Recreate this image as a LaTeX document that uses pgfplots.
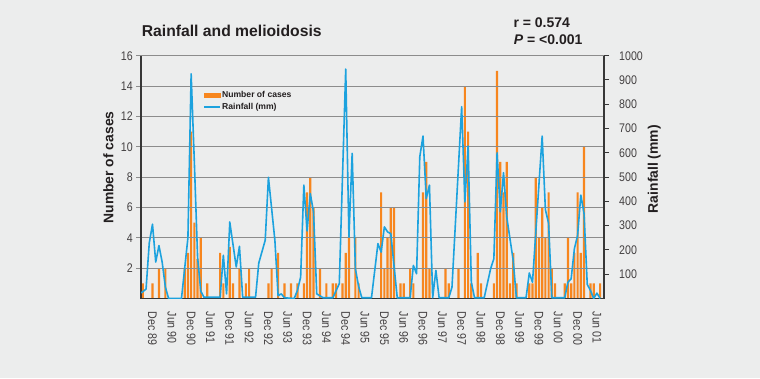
\documentclass[border=0pt]{standalone}
\usepackage{pgfplots}
\pgfplotsset{compat=1.18}
\usepackage{pgfplotstable}
\usepackage{fontspec}
\setmainfont{Liberation Sans}
\newfontfamily\tickfont{Liberation Sans}[FakeStretch=0.85]
\definecolor{bg}{RGB}{236,237,237}
\definecolor{barorange}{RGB}{247,134,30}
\definecolor{rainblue}{RGB}{28,162,222}
\definecolor{gridgray}{RGB}{140,140,140}
\definecolor{spine}{RGB}{55,55,55}
\definecolor{txt}{RGB}{35,31,32}

\pgfplotstableread{
m c
-3 1
0 1
2 2
4 2
10 2
11 3
12 11
13 5
14 2.6
15 4
17 1
21 3
22 1
24 3.4
25 1
27 2
29 1
30 2
36 1
37 2
39 3
41 1
43 1
45 1
47 1
48 7
49 8
50 6
52 2
54 1
56 1
57 1
59 1
60 3
61 4
63 4
64 1
71 7
72 2
73 4
74 6
75 6
77 1
78 1
80 2
81 1
84 7
85 9
86 2
91 2
92 1
95 2
97 14
98 11
99 1
101 3
102 1
106 1
107 15
108 9
109 7
110 9
111 1
112 3
113 1
117 1
118 1
119 8
120 4
121 6
122 4
123 7
124 2
125 1
128 1
129 4
130 1
131 3
132 7
133 3
134 10
136 1
137 1
139 1
}\casestable

\pgfplotstableread{
m r
-3.5 23
-2 39
-1 229
0 306
1 150
2 218
3 150
4 47
5 0
9 0
11 250
12 925
13 560
14 170
15 30
16 5
21 5
22 178
23 19
24 315
26 130
27 215
28 5
32 5
33 146
35 240
36 499
38 240
39 12
40 19
41 3
44 0
45 33
46 88
47 467
48 278
49 432
50 357
51 19
53 3
56 3
58 61
60 945
61 253
62 598
63 123
64 50
65 3
68 3
70 226
71 191
72 295
73 274
74 267
76 3
80 3
81 136
82 102
83 584
84 669
85 412
86 467
87 3
88 116
89 3
92 3
93 47
96 790
97 398
98 628
99 67
100 3
103 3
105 123
106 164
107 600
108 357
109 518
110 336
112 157
113 3
116 3
117 105
118 67
120 470
121 669
122 366
123 309
124 3
128 3
129 67
130 81
131 205
132 260
133 426
134 350
135 58
136 33
137 0
138 22
139 0
}\raintable

\pgfplotsset{
  common/.style={
    at={(141pt,79.5pt)}, anchor=south west,
    scale only axis, width=463pt, height=242.8pt,
    xmin=-3.57, xmax=140.2,
    tick align=outside, major tick length=5pt,
    /pgf/number format/assume math mode=true,
    /pgf/number format/1000 sep={},
    axis line style={spine, line width=1.5pt, -},
    tick label style={font=\tickfont\fontsize{12.5}{14}\selectfont, text=txt!85},
  }
}

\begin{document}
\begin{tikzpicture}
\fill[bg] (0,0) rectangle (760pt,378pt);
\useasboundingbox (0,0) rectangle (760pt,378pt);
\begin{axis}[common,
  ymin=0, ymax=16,
  axis x line*=bottom, axis y line*=left,
  axis on top,
  ymajorgrids, grid style={gridgray, line width=1pt},
  ytick={2,4,...,16},
  ytick style={gridgray, line width=1pt},
  yticklabel style={inner sep=0pt, anchor=east},
  yticklabel shift=3pt,
  xtick={0,6,...,138},
  xticklabels={Dec 89, Jun 90, Dec 90, Jun 91, Dec 91, Jun 92, Dec 92, Jun 93, Dec 93, Jun 94, Dec 94, Jun 95, Dec 95, Jun 96, Dec 96, Jun 97, Dec 97, Jun 98, Dec 98, Jun 99, Dec 99, Jun 00, Dec 00, Jun 01},
  xtick style={draw=none},
  xticklabel style={rotate=-90, anchor=west, inner sep=0pt},
  xticklabel shift=8pt,
  ylabel={Number of cases},
  ylabel style={at={(axis description cs:-0.0706,0.5395)}, anchor=center, font=\bfseries\fontsize{13.9}{16}\selectfont, text=txt},
]
\addplot[ybar, bar width=0.68, fill=barorange, draw=none] table[x=m, y=c] {\casestable};
\end{axis}
\begin{axis}[common,
  ymin=0, ymax=1000,
  axis x line=none, axis y line*=right,
  ytick={100,200,...,1000},
  ytick style={spine, line width=1pt},
  yticklabel style={inner sep=0pt, anchor=west},
  yticklabel shift=10pt,
  ylabel={Rainfall (mm)},
  ylabel style={at={(axis description cs:1.1087,0.533)}, anchor=center, rotate=0, font=\bfseries\fontsize{13.9}{16}\selectfont, text=txt},
  legend style={at={(axis description cs:0.1346,0.858)}, anchor=north west, draw=none, fill=none, inner sep=0pt, row sep=3pt,
    nodes={inner sep=1pt, font=\bfseries\fontsize{8.6}{10}\selectfont, text=txt, text height=6.2pt, text depth=1pt}},
  legend cell align=left,
]
\addlegendimage{legend image code/.code={\fill[barorange] (0pt,-2pt) rectangle (16pt,2pt);}}
\addlegendentry{Number of cases}
\addplot[rainblue, line width=1.6pt, line join=round, mark=none,
  legend image code/.code={\draw[rainblue, line width=1.6pt] (0pt,0pt) -- (16pt,0pt);}] table[x=m, y=r] {\raintable};
\addlegendentry{Rainfall (mm)}
\end{axis}
\node[anchor=base west, inner sep=0pt, text=txt, font=\bfseries\fontsize{15.7}{18}\selectfont] at (141.7pt,341.3pt) {Rainfall and melioidosis};
\node[anchor=base west, inner sep=0pt, text=txt, font=\bfseries\fontsize{14}{16}\selectfont] at (513.3pt,350.3pt) {r = 0.574};
\node[anchor=base west, inner sep=0pt, text=txt, font=\bfseries\fontsize{14}{16}\selectfont] at (513.7pt,333pt) {\textit{P} = <0.001};
\end{tikzpicture}
\end{document}
